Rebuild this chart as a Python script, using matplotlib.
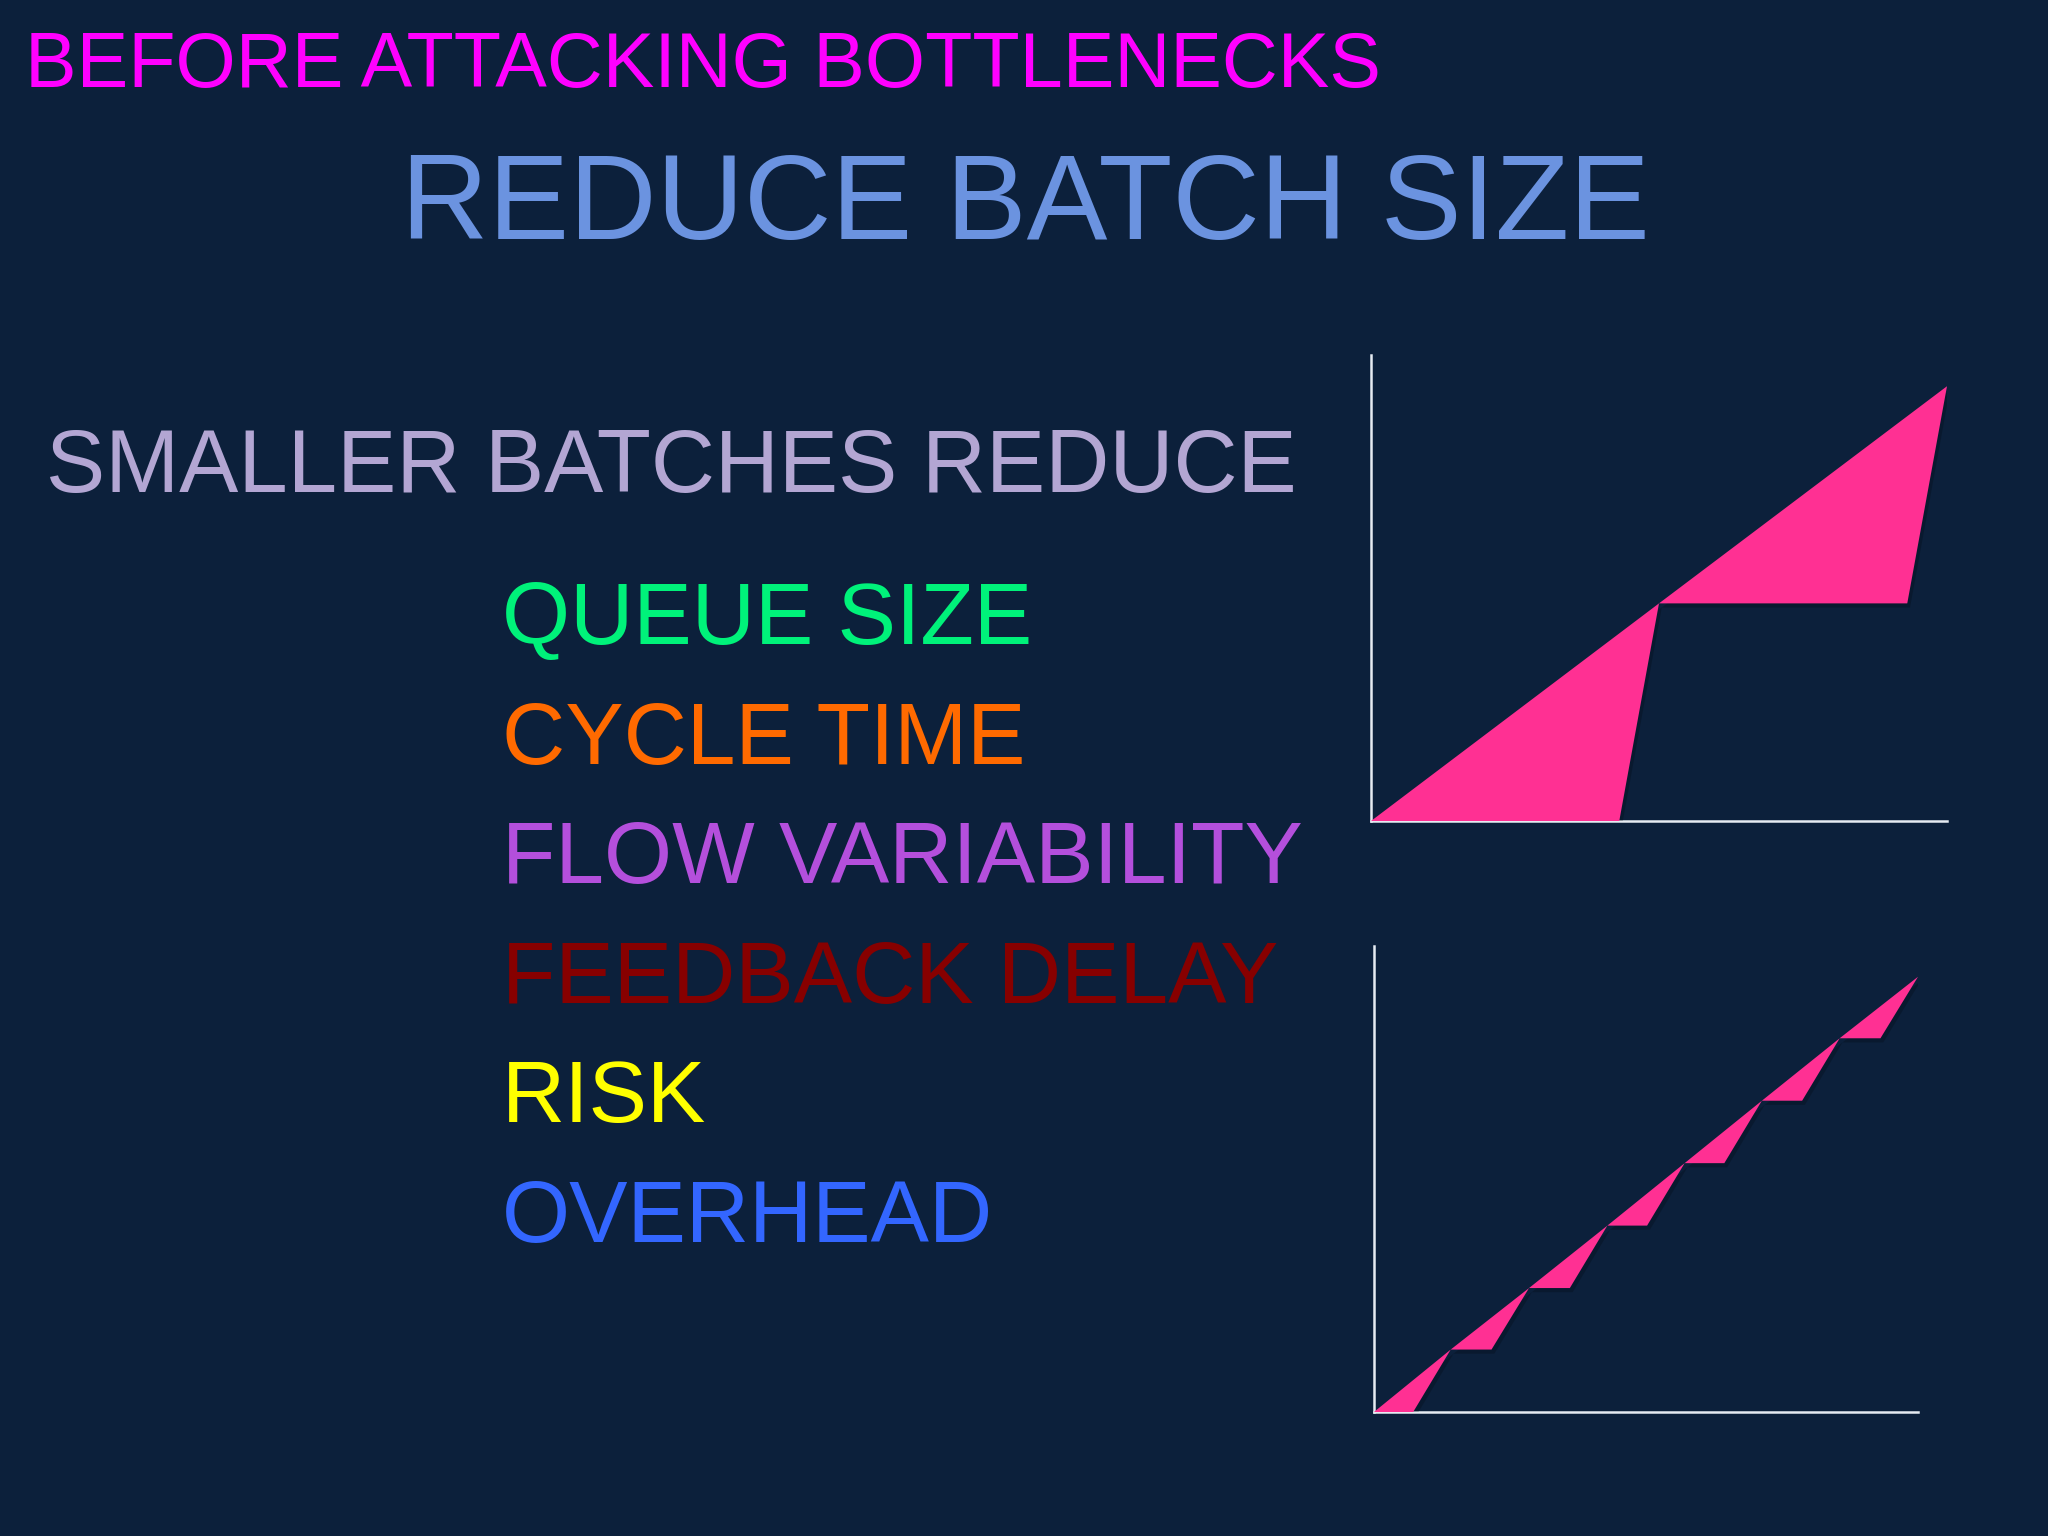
import matplotlib
matplotlib.use("Agg")
import matplotlib.pyplot as plt
import matplotlib.patheffects as pe

# ---------------------------------------------------------------------------
# Data
# ---------------------------------------------------------------------------
header = "BEFORE ATTACKING BOTTLENECKS"
title = "REDUCE BATCH SIZE"
subtitle = "SMALLER BATCHES REDUCE"
items = ["QUEUE SIZE", "CYCLE TIME", "FLOW VARIABILITY",
         "FEEDBACK DELAY", "RISK", "OVERHEAD"]

# large batches: end time and cumulative work of each batch
big_x = [5.0, 10.0]
big_y = [4.67, 9.33]
# small batches
small_x = [1.41, 2.85, 4.29, 5.71, 7.13, 8.56, 10.0]
small_y = [1.34, 2.66, 4.00, 5.34, 6.68, 8.02, 9.34]
lag = 0.69   # delay before a batch's work arrives

# ---------------------------------------------------------------------------
# Style
# ---------------------------------------------------------------------------
W, H = 2048, 1536
BG = "#0c203b"
PINK = "#ff3093"
AXIS = "#e6ebf2"
FONT = ["Liberation Sans", "DejaVu Sans"]
item_colors = ["#00f27a", "#ff6a00", "#b44fdc", "#870000", "#ffff00", "#3366ff"]


def fx(px):
    return px / W


def fy(py):
    return 1 - py / H


def pt(cap_px, squeeze=1.0):
    # cap height (px) -> font size (pt), Arial metrics; squeeze trims width
    return cap_px / 0.716 * 72 / 100 * squeeze


def draw_batches(ax, xs, ys):
    px, py = 0.0, 0.0
    for x, y in zip(xs, ys):
        ax.fill([px, x, x - lag], [py, y, py], color=PINK, lw=0, zorder=3,
                path_effects=[pe.SimplePatchShadow(offset=(2, -3), shadow_rgbFace="black",
                                                   alpha=0.2),
                              pe.Normal()])
        px, py = x, y
    ax.set_xlim(0, 10)
    ax.set_ylim(0, 10)
    ax.set_facecolor("none")
    ax.set_xticks([])
    ax.set_yticks([])
    for s in ["top", "right"]:
        ax.spines[s].set_visible(False)
    for s in ["left", "bottom"]:
        ax.spines[s].set_color(AXIS)
        ax.spines[s].set_linewidth(1.8)


fig = plt.figure(figsize=(W / 100, H / 100), dpi=100)
fig.patch.set_facecolor(BG)

# ---- Text ---------------------------------------------------------------
fig.text(fx(25), fy(87), header, color="#ff00ff", fontsize=pt(58, 0.955),
         family=FONT, va="baseline", ha="left")
fig.text(fx(1025), fy(239), title, color="#6b93e0", fontsize=pt(89, 0.975),
         family=FONT, va="baseline", ha="center")
fig.text(fx(46), fy(492), subtitle, color="#b3a6d3", fontsize=pt(67, 0.948),
         family=FONT, va="baseline", ha="left")

for i, (label, c) in enumerate(zip(items, item_colors)):
    fig.text(fx(502), fy(644 + 119.6 * i), label, color=c, fontsize=pt(67, 0.935),
             family=FONT, va="baseline", ha="left")

# ---- Charts -------------------------------------------------------------
ax1 = fig.add_axes([fx(1371), fy(821), fx(1947 - 1371), (821 - 355) / H])
draw_batches(ax1, big_x, big_y)

ax2 = fig.add_axes([fx(1374), fy(1412), fx(1918 - 1374), (1412 - 946) / H])
draw_batches(ax2, small_x, small_y)

fig.savefig("out.png", dpi=100, facecolor=BG)
